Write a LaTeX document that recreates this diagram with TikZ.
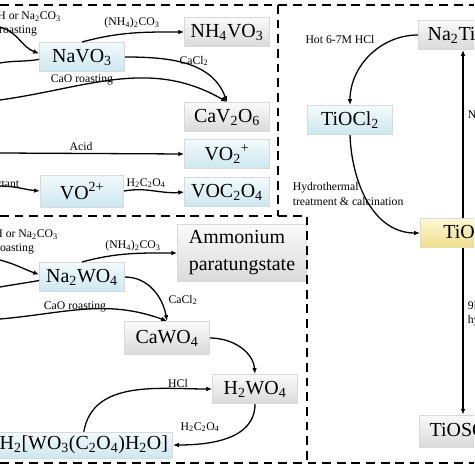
\documentclass[tikz,border=0pt]{standalone}
\usepackage{fontspec}
\setmainfont{Liberation Serif}
\usetikzlibrary{arrows.meta}
\newcommand{\chsb}[1]{\textsubscript{#1}}
\newcommand{\chsp}[1]{\textsuperscript{#1}}
\definecolor{vtop}{HTML}{F2FAFC}
\definecolor{vbot}{HTML}{CDE7F0}
\definecolor{gtop}{HTML}{FAFAFA}
\definecolor{gbot}{HTML}{DADADA}
\definecolor{ytop}{HTML}{FFF9D6}
\definecolor{ybot}{HTML}{EEDC8C}

\begin{document}
\begin{tikzpicture}[x=0.03cm, y=-0.03cm, line width=1.1pt,
    >={Latex[length=5pt,width=4pt]},
    box/.style = {draw=black!15, line width=0.6pt, minimum height=0.88cm, minimum width=2.55cm,
                  inner sep=1pt, font=\fontsize{17}{19}\selectfont},
    bluebox/.style = {box, top color=vtop, bottom color=vbot},
    greybox/.style = {box, top color=gtop, bottom color=gbot},
    yellowbox/.style = {box, top color=ytop, bottom color=ybot},
    lbl/.style = {font=\fontsize{10}{12}\selectfont, inner sep=1pt},
    border/.style = {line width=2pt, dash pattern=on 7.5pt off 5pt}]
  \useasboundingbox (0,0) rectangle (474,474);
  \clip (0,0) rectangle (474,474);

  % vanadium
  \node [bluebox] (navo) at (82,57) {NaVO\chsb{3}};
  \node [greybox] (nhvo) at (227,32) {NH\chsb{4}VO\chsb{3}};
  \node [greybox] (cavo) at (227,117) {CaV\chsb{2}O\chsb{6}};
  \node [bluebox] (vopl) at (227,154) {VO\chsb{2}\chsp{+}};
  \node [bluebox, minimum width=2.5cm, minimum height=0.96cm] (vo) at (82,191) {VO\chsp{2+}};
  \node [bluebox] (voox) at (227,192) {VOC\chsb{2}O\chsb{4}};

  \coordinate (vin1) at (0,27);
  \coordinate (vin2) at (0,63);
  \coordinate (vin3) at (0,100);
  \coordinate (vin4) at (0,153);
  \coordinate (vin5) at (0,186);

  \draw [->] (vin1) to[out=-15, in=160] ([yshift=3pt]navo.west);
  \draw (vin2) to[out=10, in=190] ([yshift=-2pt]navo.west);
  \draw [->] (navo.north) to[out=15, in=180] (nhvo.west);
  \draw [->] (navo.east) to[out=0, in=110] (cavo.north);
  \draw [->] (vin3) to[out=8, in=150] (cavo.north);
  \draw [->] (vin4) -- (vopl.west);
  \draw [->] (vin5) to[out=0, in=175] (vo.west);
  \draw [->] (vo.east) to[out=10, in=185] (voox.west);

  \node [lbl, align=center] at (18,24) {NaOH or Na\chsb{2}CO\chsb{3}\\roasting};
  \node [lbl] at (132,23) {(NH\chsb{4})\chsb{2}CO\chsb{3}};
  \node [lbl] at (194,61) {CaCl\chsb{2}};
  \node [lbl] at (82,80) {CaO roasting};
  \node [lbl] at (81,146) {Acid};
  \node [lbl, anchor=east] at (21,183) {Reductant};
  \node [lbl] at (146,183) {H\chsb{2}C\chsb{2}O\chsb{4}};

  % tungsten
  \node [bluebox] (nawo) at (82,277) {Na\chsb{2}WO\chsb{4}};
  \node [greybox, minimum width=3.87cm, minimum height=1.7cm, align=left,
         font=\fontsize{17}{23}\selectfont] (apt) at (242,253) {Ammonium\\paratungstate};
  \node [greybox, minimum height=1.0cm] (cawo) at (167,338) {CaWO\chsb{4}};
  \node [greybox] (hwo) at (255,389) {H\chsb{2}WO\chsb{4}};
  \node [bluebox, anchor=east, minimum height=0.78cm, inner xsep=4pt] (hwox) at (173,445)
        {H\chsb{2}[WO\chsb{3}(C\chsb{2}O\chsb{4})H\chsb{2}O]};

  \coordinate (win1) at (0,260);
  \coordinate (win2) at (0,287);
  \coordinate (win3) at (0,319);

  \draw [->] (win1) to[out=-15, in=160] ([yshift=2pt]nawo.west);
  \draw (win2) to[out=10, in=190] ([yshift=-3pt]nawo.west);
  \draw [->] (nawo.north) to[out=15, in=180] (apt.west);
  \draw [->] (nawo.east) to[out=0, in=100] (cawo.north);
  \draw [->] (win3) to[out=5, in=160] (cawo.north);
  \draw [->] (cawo.east) to[out=0, in=95] (hwo.north);
  \draw [->] (hwox.north) to[out=80, in=180] (hwo.west);
  \draw [->] (hwo.south) to[out=-90, in=0] (hwox.east);

  \node [lbl, align=center] at (15,242) {NaOH or Na\chsb{2}CO\chsb{3}\\roasting};
  \node [lbl] at (133,246) {(NH\chsb{4})\chsb{2}CO\chsb{3}};
  \node [lbl] at (183,300) {CaCl\chsb{2}};
  \node [lbl] at (75,307) {CaO roasting};
  \node [lbl] at (178,383) {HCl};
  \node [lbl] at (200,427) {H\chsb{2}C\chsb{2}O\chsb{4}};

  % titanium
  \node [greybox, anchor=west, inner xsep=8pt] (nati) at (418,35) {Na\chsb{2}TiO\chsb{3}};
  \node [bluebox] (ticl) at (350,120) {TiOCl\chsb{2}};
  \node [yellowbox, anchor=west, inner xsep=8pt] (tio) at (420,233) {TiO\chsb{2}};
  \node [greybox, anchor=west, inner xsep=8pt, minimum height=0.96cm] (tios) at (419,431) {TiOSO\chsb{4}};
  \coordinate (tix) at (463,0);

  \draw [->] (nati.west) to[out=180, in=90] (ticl.north);
  \draw [->] (ticl.south) to[out=-88, in=180] (tio.west);
  \draw [->] (tio.north -| tix) -- (nati.south -| tix);
  \draw [->] (tio.south -| tix) -- (tios.north -| tix);

  \node [lbl] at (340,39) {Hot 6-7M HCl};
  \node [lbl, align=left, anchor=west] at (291,194) {Hydrothermal\\treatment \& calcination};
  \node [lbl, anchor=west] at (466,115) {NaOH};
  \node [lbl, align=left, anchor=west] at (466,314) {9M H\chsb{2}SO\chsb{4}\\hydrolysis};

  % borders
  \draw [border] (0,5) -- (474,5);
  \draw [border] (278,5) -- (278,216);
  \draw [border] (0,216) -- (307,216) -- (307,463);
  \draw [border] (0,463) -- (474,463);
\end{tikzpicture}
\end{document}
